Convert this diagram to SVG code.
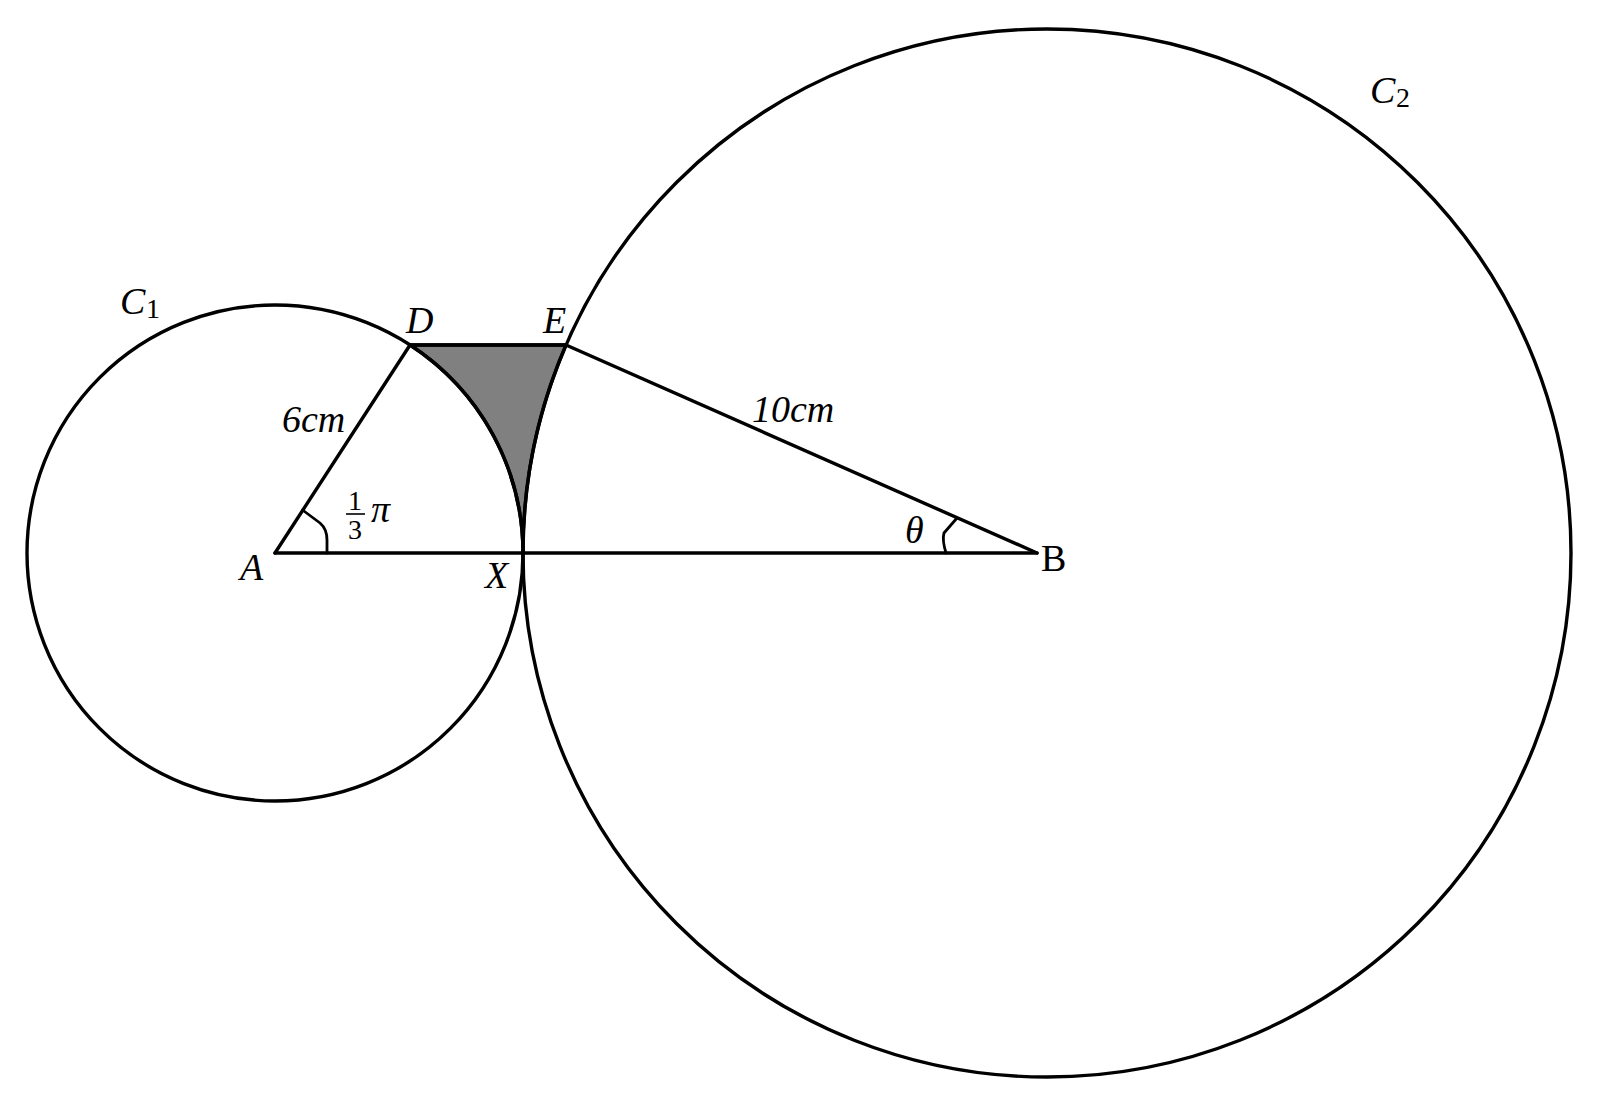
<svg xmlns="http://www.w3.org/2000/svg" width="1600" height="1114" viewBox="0 0 1600 1114">
<style>
.ln{fill:none;stroke:#000;stroke-width:3.4;stroke-linecap:round;stroke-linejoin:round}
.ar{fill:none;stroke:#000;stroke-width:2.8;stroke-linecap:round;stroke-linejoin:round}
.t{font-family:"Liberation Serif","Times New Roman",serif;font-style:italic;font-size:38px;fill:#000}
.u{font-family:"Liberation Serif","Times New Roman",serif;font-size:38px;fill:#000}
.s{font-family:"Liberation Serif","Times New Roman",serif;font-size:28px;fill:#000}
</style>
<rect width="1600" height="1114" fill="#fff"/>
<g id="shaded">
<path d="M410,345 L566,345 A524,524 0 0 0 523,553 A248,248 0 0 0 410,345 Z" fill="#808080" stroke="#000" stroke-width="3.4" stroke-linejoin="round"/>
</g>
<g id="C1">
<circle cx="275" cy="553" r="248" class="ln"/>
<text class="t" x="120" y="314">C</text><text class="s" x="146" y="318">1</text>
</g>
<g id="C2">
<circle cx="1047" cy="553" r="524" class="ln"/>
<text class="t" x="1370" y="103">C</text><text class="s" x="1396" y="107">2</text>
</g>
<g id="connectors">
<line class="ln" x1="275" y1="553" x2="1037" y2="553"/>
<line class="ln" x1="275" y1="553" x2="410" y2="345"/>
<line class="ln" x1="410" y1="345" x2="566" y2="345"/>
<line class="ln" x1="566" y1="345" x2="1037" y2="553"/>
<path class="ar" d="M302.5,510 L320,523 Q327,529 327,540 L327,553"/>
<path class="ar" d="M957,518 L944,533 Q942,540 946,553"/>
</g>
<g id="labels">
<text class="t" x="406" y="333">D</text>
<text class="t" x="543" y="333">E</text>
<text class="t" x="240" y="580">A</text>
<text class="t" x="485" y="588">X</text>
<text class="u" x="1041" y="571">B</text>
<text class="t" x="282" y="432">6cm</text>
<text class="t" x="752" y="422">10cm</text>
<text class="s" x="348" y="510">1</text>
<line x1="346" y1="514" x2="365" y2="514" stroke="#000" stroke-width="1.6"/>
<text class="s" x="348" y="539">3</text>
<text class="t" x="371" y="522">π</text>
<text class="t" x="905" y="543">θ</text>
</g>
</svg>
